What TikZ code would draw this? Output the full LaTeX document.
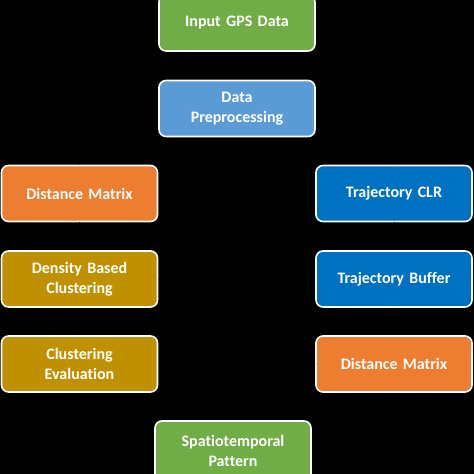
\documentclass[tikz,border=0pt]{standalone}
\usepackage{fontspec}
\setmainfont[Ligatures={NoCommon}]{Carlito}
\usetikzlibrary{arrows.meta}
\definecolor{cgreen}{HTML}{70AD47}
\definecolor{clblue}{HTML}{5B9BD5}
\definecolor{corange}{HTML}{ED7D31}
\definecolor{cdblue}{HTML}{0070C0}
\definecolor{cgold}{HTML}{BF9000}
\tikzset{
  box/.style={draw=white, line width=1.6pt, rounded corners=7pt, minimum width=156pt, text width=150pt, align=center, font=\bfseries\fontsize{16}{20}\selectfont, text=white, inner sep=0pt},
  link/.style={draw=black, line width=1pt, -{Stealth[length=5pt]}}
}
\begin{document}
\begin{tikzpicture}[x=1pt,y=-1pt]
\fill[black] (0,0) rectangle (474,474);
\useasboundingbox (0,0) rectangle (474,474);
\node[box, fill=cgreen, minimum height=56pt] (in) at (237,23) {Input GPS Data};
\node[box, fill=clblue, minimum height=56pt] (pre) at (237,108.5) {Data\\Preprocessing};
\node[box, fill=corange, minimum height=56pt] (dm1) at (79.5,193.5) {Distance Matrix};
\node[box, fill=cdblue, minimum height=56pt] (clr) at (394,193.5) {Trajectory CLR};
\node[box, fill=cgold, minimum height=56pt] (dbc) at (79.5,279) {Density Based\\Clustering};
\node[box, fill=cdblue, minimum height=56pt] (tb) at (394,279) {Trajectory Buffer};
\node[box, fill=cgold, minimum height=56pt] (ce) at (79.5,364) {Clustering\\Evaluation};
\node[box, fill=corange, minimum height=56pt] (dm2) at (394,364) {Distance Matrix};
\node[box, fill=cgreen, minimum height=60pt] (sp) at (233,451) {Spatiotemporal\\Pattern};
\draw[link] (in) -- (pre);
\draw[link] (pre.west) -| (dm1.north);
\draw[link] (pre.east) -| (clr.north);
\draw[link] (dm1) -- (dbc);
\draw[link] (dbc) -- (ce);
\draw[link] (clr) -- (tb);
\draw[link] (tb) -- (dm2);
\draw[link] (dm2.west) -- (dbc.east);
\draw[link] (ce.south) |- (sp.west);
\end{tikzpicture}
\end{document}
